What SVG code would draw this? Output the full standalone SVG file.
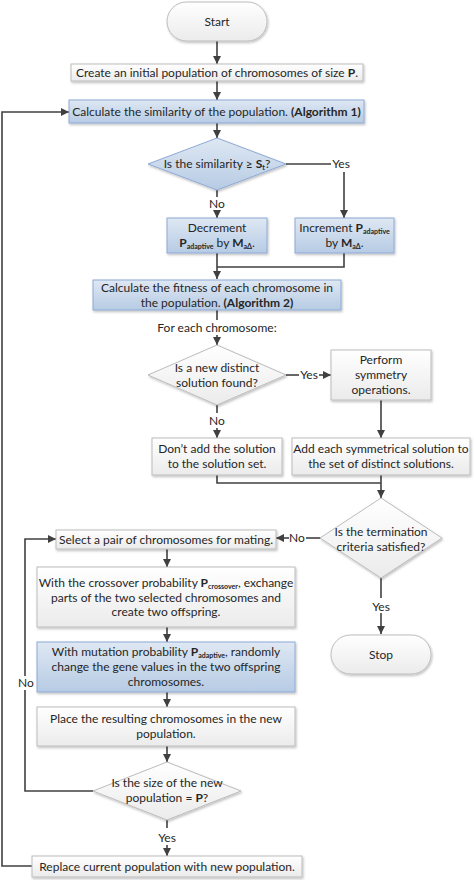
<svg xmlns="http://www.w3.org/2000/svg" width="474" height="880" viewBox="0 0 474 880">
<defs>
<linearGradient id="gw" x1="0" y1="0" x2="0" y2="1"><stop offset="0" stop-color="#ffffff"/><stop offset="1" stop-color="#ebebeb"/></linearGradient>
<linearGradient id="gb" x1="0" y1="0" x2="0" y2="1"><stop offset="0" stop-color="#dfe8f3"/><stop offset="1" stop-color="#b6cbe4"/></linearGradient>
<filter id="sh" x="-10%" y="-10%" width="130%" height="140%"><feDropShadow dx="1" dy="1.5" stdDeviation="1" flood-color="#000" flood-opacity="0.25"/></filter>
<marker id="ah" markerWidth="9" markerHeight="9" refX="8" refY="4.5" orient="auto" markerUnits="userSpaceOnUse"><path d="M0,0.5 L8,4.5 L0,8.5 z" fill="#404040"/></marker>
</defs>
<style>
.t{font-family:Lato,"Open Sans","Liberation Sans",sans-serif;font-size:12px;fill:#262626;text-anchor:middle}
.b{font-weight:bold}
.s{font-size:7px;font-weight:bold}
.w{fill:url(#gw);stroke:#bcbcbc;stroke-width:1;filter:url(#sh)}
.bl{fill:url(#gb);stroke:#8eaad6;stroke-width:1;filter:url(#sh)}
.c{fill:none;stroke:#404040;stroke-width:1.6}
.a{marker-end:url(#ah)}
</style>
<rect width="474" height="880" fill="#ffffff"/>

<g id="connectors">
<path class="c a" d="M217,41 V64"/>
<path class="c a" d="M217,81 V100"/>
<path class="c a" d="M217,123 V138"/>
<path class="c" d="M286,164 H331"/>
<path class="c a" d="M344,172 V218"/>
<path class="c" d="M217,190 V197"/>
<path class="c a" d="M217,211 V218"/>
<path class="c a" d="M217,253 V279"/>
<path class="c" d="M344,253 V267 H217"/>
<path class="c" d="M217,310 V320"/>
<path class="c a" d="M217,335 V345"/>
<path class="c" d="M286,375 H299"/>
<path class="c a" d="M319,375 H331"/>
<path class="c" d="M217,405 V413"/>
<path class="c a" d="M217,428 V438"/>
<path class="c a" d="M381,400 V438"/>
<path class="c" d="M217,475 V483 H381"/>
<path class="c a" d="M381,475 V498"/>
<path class="c" d="M321,538 H306"/>
<path class="c a" d="M289,538 H276"/>
<path class="c" d="M381,578 V598"/>
<path class="c a" d="M381,613 V634"/>
<path class="c a" d="M167,549 V567"/>
<path class="c a" d="M167,627 V642"/>
<path class="c a" d="M167,692 V707"/>
<path class="c a" d="M167,746 V762"/>
<path class="c" d="M93,791 H25 V690"/>
<path class="c a" d="M25,676 V539 H56"/>
<path class="c" d="M167,820 V828"/>
<path class="c a" d="M167,845 V856"/>
<path class="c a" d="M32,866 H2 V112 H69"/>
<text class="t" x="341" y="168">Yes</text>
<text class="t" x="217" y="208">No</text>
<text class="t" x="217" y="332">For each chromosome:</text>
<text class="t" x="309" y="379">Yes</text>
<text class="t" x="217" y="425">No</text>
<text class="t" x="297" y="542">No</text>
<text class="t" x="381" y="611">Yes</text>
<text class="t" x="26" y="687">No</text>
<text class="t" x="167" y="842">Yes</text>
</g>

<g id="start">
<rect class="w" x="167" y="2" width="100" height="39" rx="19.5"/>
<text class="t" x="217" y="25.5">Start</text>
</g>

<g id="create">
<rect class="w" x="71" y="64" width="292" height="17"/>
<text class="t" x="217" y="76.5">Create an initial population of chromosomes of size <tspan class="b">P</tspan>.</text>
</g>

<g id="similarity">
<rect class="bl" x="69" y="100" width="295" height="23"/>
<text class="t" x="216.5" y="116">Calculate the similarity of the population. <tspan class="b">(Algorithm 1)</tspan></text>
</g>

<g id="similarity-check">
<polygon class="bl" points="217,138 286,164 217,190 148,164"/>
<text class="t" x="217" y="168">Is the similarity ≥  <tspan class="b">S</tspan><tspan class="s" dy="2">t</tspan><tspan dy="-2">?</tspan></text>
</g>

<g id="decrement">
<rect class="bl" x="167" y="218" width="100" height="35"/>
<text class="t" x="217" y="232">Decrement</text>
<text class="t" x="217" y="247"><tspan class="b">P</tspan><tspan class="s" dy="2">adaptive</tspan><tspan dy="-2"> by </tspan><tspan class="b">M</tspan><tspan class="s" dy="2">aΔ</tspan><tspan dy="-2">.</tspan></text>
</g>

<g id="increment">
<rect class="bl" x="295" y="218" width="99" height="35"/>
<text class="t" x="344.5" y="232">Increment <tspan class="b">P</tspan><tspan class="s" dy="2">adaptive</tspan></text>
<text class="t" x="344.5" y="247">by <tspan class="b">M</tspan><tspan class="s" dy="2">aΔ</tspan><tspan dy="-2">.</tspan></text>
</g>

<g id="fitness">
<rect class="bl" x="93" y="280" width="248" height="30"/>
<text class="t" x="217" y="292">Calculate the fitness of each chromosome in</text>
<text class="t" x="217" y="307">the population. <tspan class="b">(Algorithm 2)</tspan></text>
</g>

<g id="distinct-check">
<polygon class="w" points="217,345 286,375 217,405 148,375"/>
<text class="t" x="217" y="372">Is a new distinct</text>
<text class="t" x="217" y="387">solution found?</text>
</g>

<g id="symmetry">
<rect class="w" x="331" y="350" width="100" height="50"/>
<text class="t" x="381" y="364">Perform</text>
<text class="t" x="381" y="379">symmetry</text>
<text class="t" x="381" y="394">operations.</text>
</g>

<g id="dont-add">
<rect class="w" x="152" y="438" width="130" height="37"/>
<text class="t" x="217" y="453">Don’t add the solution</text>
<text class="t" x="217" y="468">to the solution set.</text>
</g>

<g id="add-each">
<rect class="w" x="292" y="438" width="178" height="37"/>
<text class="t" x="381" y="453">Add each symmetrical solution to</text>
<text class="t" x="381" y="468">the set of distinct solutions.</text>
</g>

<g id="termination">
<polygon class="w" points="381,498 442,538 381,578 320,538"/>
<text class="t" x="381" y="535.5">Is the termination</text>
<text class="t" x="381" y="550.5">criteria satisfied?</text>
</g>

<g id="stop">
<rect class="w" x="331" y="635" width="100" height="39" rx="19.5"/>
<text class="t" x="381" y="658.5">Stop</text>
</g>

<g id="select">
<rect class="w" x="56" y="530" width="220" height="19"/>
<text class="t" x="166" y="543.5">Select a pair of chromosomes for mating.</text>
</g>

<g id="crossover">
<rect class="w" x="37" y="567" width="258" height="60"/>
<text class="t" x="166" y="587">With the crossover probability <tspan class="b">P</tspan><tspan class="s" dy="2">crossover</tspan><tspan dy="-2">, exchange</tspan></text>
<text class="t" x="166" y="601.5">parts of the two selected chromosomes and</text>
<text class="t" x="166" y="616">create two offspring.</text>
</g>

<g id="mutation">
<rect class="bl" x="37" y="642" width="258" height="50"/>
<text class="t" x="166" y="656">With mutation probability <tspan class="b">P</tspan><tspan class="s" dy="2">adaptive</tspan><tspan dy="-2">, randomly</tspan></text>
<text class="t" x="166" y="671">change the gene values in the two offspring</text>
<text class="t" x="166" y="685.5">chromosomes.</text>
</g>

<g id="place">
<rect class="w" x="37" y="707" width="258" height="39"/>
<text class="t" x="166" y="723">Place the resulting chromosomes in the new</text>
<text class="t" x="166" y="738">population.</text>
</g>

<g id="size-check">
<polygon class="w" points="167,762 241,791 167,820 93,791"/>
<text class="t" x="167" y="787">Is the size of the new</text>
<text class="t" x="167" y="802">population = <tspan class="b">P</tspan>?</text>
</g>

<g id="replace">
<rect class="w" x="32" y="856" width="270" height="21"/>
<text class="t" x="167" y="870.5">Replace current population with new population.</text>
</g>
</svg>
